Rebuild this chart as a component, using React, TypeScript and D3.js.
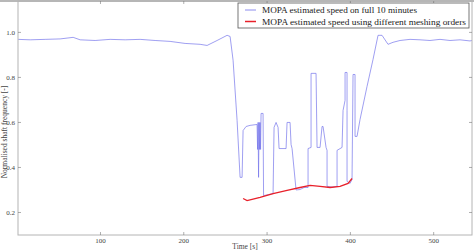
import React from "react";
import * as d3 from "d3";

const blueT = [1.2, 15.6, 33.6, 51.6, 67.2, 75.6, 93.6, 111.6, 129.6, 147.6, 165.6, 183.6, 201.6, 219.6, 228, 240, 252, 255.6, 259.2, 264, 267.6, 270, 271.2, 274.8, 279.6, 288, 288.6, 289.2, 289.8, 290.4, 291, 291.6, 292.2, 292.8, 295.2, 295.8, 301.2, 307.2, 308.4, 310.8, 313.2, 314.4, 322.8, 324, 327.6, 328.8, 330, 334.8, 339.6, 344.4, 349.2, 349.2, 352.8, 352.8, 358.8, 360, 363.6, 366, 367.2, 370.8, 372, 372, 378, 384, 384, 390, 391.2, 393.6, 393.6, 396, 396, 396, 399.6, 402, 403.2, 405.6, 405.6, 408, 411.6, 420, 427.2, 433.2, 438, 445.2, 451.2, 459.6, 471.6, 483.6, 495.6, 507.6, 519.6, 531.6, 543.6, 546];
const blueV = [0.969, 0.967, 0.969, 0.971, 0.978, 0.967, 0.964, 0.969, 0.967, 0.969, 0.964, 0.96, 0.951, 0.947, 0.942, 0.964, 0.987, 0.982, 0.876, 0.609, 0.356, 0.356, 0.564, 0.582, 0.587, 0.591, 0.48, 0.6, 0.356, 0.6, 0.48, 0.6, 0.48, 0.64, 0.64, 0.275, 0.279, 0.284, 0.578, 0.6, 0.578, 0.484, 0.484, 0.6, 0.6, 0.502, 0.484, 0.3, 0.302, 0.311, 0.311, 0.484, 0.489, 0.818, 0.818, 0.489, 0.489, 0.582, 0.582, 0.489, 0.476, 0.316, 0.313, 0.316, 0.476, 0.489, 0.653, 0.698, 0.822, 0.822, 0.653, 0.338, 0.329, 0.347, 0.813, 0.813, 0.538, 0.538, 0.613, 0.76, 0.88, 0.987, 0.987, 0.947, 0.956, 0.964, 0.969, 0.967, 0.964, 0.969, 0.964, 0.967, 0.962, 0.964, 0.964];

const redT = [271.2, 276, 291.6, 307.2, 324, 339.6, 351.6, 363.6, 375.6, 387.6, 397.2, 402];
const redV = [0.262, 0.253, 0.267, 0.284, 0.298, 0.311, 0.32, 0.316, 0.311, 0.316, 0.329, 0.351];

const xTicks = [100, 200, 300, 400, 500];
const yTicks = [0.2, 0.4, 0.6, 0.8, 1.0];
const legendLabels = [
  "MOPA estimated speed on full 10 minutes",
  "MOPA estimated speed using different meshing orders",
];
const seriesColors = ["#7070ea", "#e8202a"];

export default function App() {
  const W = 474;
  const H = 250;
  const x = d3.scaleLinear().domain([1, 546]).range([18, 472]);
  const y = d3.scaleLinear().domain([0.1, 1.135]).range([235, 2]);
  const line = d3
    .line<[number, number]>()
    .x((d) => x(d[0]))
    .y((d) => y(d[1]));
  const blue: [number, number][] = blueT.map((t, i) => [t, blueV[i]]);
  const red: [number, number][] = redT.map((t, i) => [t, redV[i]]);
  const frame = "#b4b4b4";
  const txt = "#444";
  const font = "'Liberation Serif', 'DejaVu Serif', serif";
  return (
    <svg
      width={W}
      height={H}
      style={{ position: "absolute", left: 0, top: 0, background: "#fff" }}
      fontFamily={font}
    >
      <rect x={0} y={0} width={W} height={H} fill="#fff" />
      <rect x={0} y={0} width={W} height={2} fill="#b8b8b8" />
      <path d={line(blue) || ""} fill="none" stroke={seriesColors[0]} strokeWidth={0.8} strokeOpacity={0.85} />
      <path d={line(red) || ""} fill="none" stroke={seriesColors[1]} strokeWidth={1.3} />
      <rect x={18} y={1} width={454} height={234} fill="none" stroke={frame} strokeWidth={1} />
      {xTicks.map((t) => (
        <g key={"x" + t}>
          <line x1={x(t)} x2={x(t)} y1={235} y2={232} stroke="#777" strokeWidth={0.6} />
          <line x1={x(t)} x2={x(t)} y1={1} y2={4} stroke="#777" strokeWidth={0.6} />
          <text x={x(t)} y={242.5} textAnchor="middle" fontSize={7} fill={txt}>
            {t}
          </text>
        </g>
      ))}
      {yTicks.map((t) => (
        <g key={"y" + t}>
          <line x1={18} x2={21} y1={y(t)} y2={y(t)} stroke="#777" strokeWidth={0.6} />
          <line x1={472} x2={469} y1={y(t)} y2={y(t)} stroke="#777" strokeWidth={0.6} />
          <text x={15} y={y(t) + 2.5} textAnchor="end" fontSize={7} fill={txt}>
            {t.toFixed(1)}
          </text>
        </g>
      ))}
      <text x={245} y={248.5} textAnchor="middle" fontSize={7.5} fill={txt}>
        Time [s]
      </text>
      <text
        transform={`translate(7,132) rotate(-90)`}
        textAnchor="middle"
        fontSize={7.5}
        fill={txt}
      >
        Normalised shaft frequency [-]
      </text>
      <rect x={238} y={3} width={231} height={25} fill="#fff" stroke="#555" strokeWidth={0.8} />
      <line x1={245} x2={256} y1={10} y2={10} stroke={seriesColors[0]} strokeWidth={0.8} />
      <line x1={245} x2={256} y1={21.5} y2={21.5} stroke={seriesColors[1]} strokeWidth={1.5} />
      <text x={262} y={13} fontSize={8.6} fill="#222" textLength={155} lengthAdjust="spacingAndGlyphs">
        {legendLabels[0]}
      </text>
      <text x={262} y={24.5} fontSize={8.6} fill="#222" textLength={204} lengthAdjust="spacingAndGlyphs">
        {legendLabels[1]}
      </text>
    </svg>
  );
}
